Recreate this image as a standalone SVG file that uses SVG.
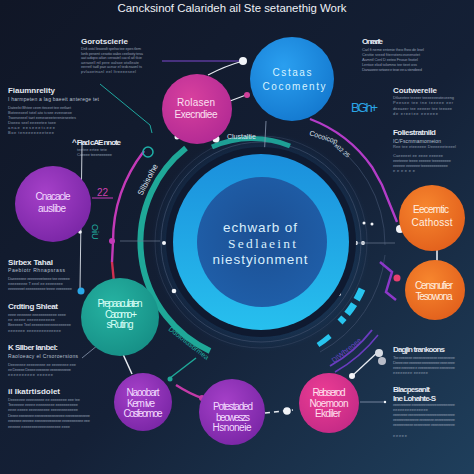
<svg xmlns="http://www.w3.org/2000/svg" width="474" height="474" viewBox="0 0 474 474">
<defs>
<linearGradient id="bg" x1="0" y1="0" x2="1" y2="1">
<stop offset="0" stop-color="#101626"/>
<stop offset="0.55" stop-color="#142036"/>
<stop offset="1" stop-color="#1f3f5c"/>
</linearGradient>
<radialGradient id="glow" cx="0.5" cy="0.5" r="0.5">
<stop offset="0.6" stop-color="#1a6fb8" stop-opacity="0.35"/>
<stop offset="1" stop-color="#1a6fb8" stop-opacity="0"/>
</radialGradient>
<linearGradient id="ring" x1="0" y1="0" x2="0" y2="1">
<stop offset="0" stop-color="#1b8fdc"/>
<stop offset="1" stop-color="#27c0ee"/>
</linearGradient>
<radialGradient id="core" cx="0.5" cy="0.45" r="0.55">
<stop offset="0" stop-color="#1c4f93"/>
<stop offset="1" stop-color="#1f5ea8"/>
</radialGradient>
<radialGradient id="blue" cx="0.4" cy="0.35" r="0.7">
<stop offset="0" stop-color="#2a9ff0"/>
<stop offset="1" stop-color="#1479cf"/>
</radialGradient>
<radialGradient id="mag" cx="0.4" cy="0.35" r="0.7">
<stop offset="0" stop-color="#d8409e"/>
<stop offset="1" stop-color="#b22a94"/>
</radialGradient>
<radialGradient id="pur" cx="0.4" cy="0.35" r="0.7">
<stop offset="0" stop-color="#a540c8"/>
<stop offset="1" stop-color="#7a26a6"/>
</radialGradient>
<radialGradient id="teal" cx="0.4" cy="0.35" r="0.7">
<stop offset="0" stop-color="#26b3a2"/>
<stop offset="1" stop-color="#168f86"/>
</radialGradient>
<radialGradient id="org" cx="0.4" cy="0.35" r="0.7">
<stop offset="0" stop-color="#f7862e"/>
<stop offset="1" stop-color="#e2601c"/>
</radialGradient>
<radialGradient id="pink" cx="0.4" cy="0.35" r="0.7">
<stop offset="0" stop-color="#ec3d94"/>
<stop offset="1" stop-color="#c42a86"/>
</radialGradient>
</defs>
<style>
text{font-family:"Liberation Sans","DejaVu Sans",sans-serif}
.serif{font-family:"Liberation Serif","DejaVu Serif",serif}
.h{font-size:8px;font-weight:bold;fill:#e4e8f0}
.s{font-size:4px;fill:#8c97ab}
.m{font-size:5px;fill:#b8c0d0}
.nt{font-size:10px;text-anchor:middle}
.ln{fill:none;stroke:#e8ecf2;stroke-width:1.2}
.thin{fill:none;stroke:#3a4a66;stroke-width:0.8}
.dot{fill:#f2f4f8}
</style>
<rect width="474" height="474" fill="url(#bg)"/>
<text x="232" y="12" text-anchor="middle" font-size="11" fill="#eef1f6" textLength="229" lengthAdjust="spacingAndGlyphs">Cancksinof Calarideh ail Ste setanethig Work</text>

<g id="text-blocks">
<text class="h" x="81" y="44" textLength="47">Gorotscierie</text>
<text class="s" x="81" y="50" textLength="60">Dnlt ostcl bsoeolt spelso tee epes tlem</text>
<text class="s" x="81" y="54.5" textLength="62">lonls pesent cesotio oalos ceelooty tesa</text>
<text class="s" x="81" y="59" textLength="61">aat adopo atlan ceroatel cacsl atl tlcie</text>
<text class="s" x="81" y="63.5" textLength="58">aeraoell ntl pere oalsoe otolleate</text>
<text class="s" x="81" y="68" textLength="61">eerretl tadl pae acnar el tedcnaonl ts</text>
<text class="s" x="81" y="72.5" textLength="55">pvlaoetnanl eel Itreeeeseel</text>

<text class="h" x="362" y="44" textLength="21">Onrarfe</text>
<text class="s" x="362" y="51" textLength="62">Carl ft neme entenie theo fheo de bsel</text>
<text class="s" x="362" y="56" textLength="58">Cesttie sreed fiterrotenceveenotet</text>
<text class="s" x="362" y="61" textLength="56">Aamntl Cenl D eeteo Fnoue feotiel</text>
<text class="s" x="362" y="66" textLength="55">Lentoe elod tolomno tee tieet oss</text>
<text class="s" x="362" y="71" textLength="60">Danaoeee setwee e teoe ee a stendieed</text>

<text class="h" x="8" y="93" textLength="47">Fiaumnrelity</text>
<text class="m" x="8" y="101" textLength="91">I harmpeten a lag baeeit anterege tet</text>
<text class="s" x="8" y="109" textLength="63">Dateelst Bhtee ceen tteceet tee eetlaet</text>
<text class="s" x="8" y="114" textLength="64">Boteeeoeel totel ato tcsee eveeoeoe</text>
<text class="s" x="8" y="119" textLength="68">Tsoeseeeel taet eeneoeeeterenieseetes</text>
<text class="s" x="8" y="124" textLength="48">Doeeo seel eeeeetee toee</text>
<text class="s" x="8" y="129" textLength="47">anae eeseeetceee</text>
<text class="s" x="8" y="134" textLength="46">Boe teneeeeeeeteee</text>

<text class="h" x="72" y="145" textLength="49">^ Fiad cAE nnote</text>
<text class="s" x="77" y="151" textLength="30">teetee ertee tete</text>
<text class="s" x="77" y="156" textLength="35">Caeeee teeeneeeeee</text>

<text class="h" x="393" y="93" textLength="44">Coutwerelle</text>
<text class="s" x="393" y="99" textLength="61">Dtlaeetee teeeer teeeeeeeoteceeng</text>
<text class="s" x="393" y="104" textLength="60">Peesee tee tne teeeee eer</text>
<text class="s" x="393" y="110" textLength="59">deeaeer tee eeeeer tee teeoee</text>
<text class="s" x="393" y="115" textLength="45">de ereetee eeeeee</text>
<text x="351" y="112" font-size="13" fill="#2ba6e6" textLength="27">BGh+</text>

<text class="h" x="393" y="135" textLength="43">Foliestratnild</text>
<text class="m" x="393" y="143" textLength="48">IC/Fscmmamomeion</text>
<text class="s" x="393" y="148" textLength="63">Ree tee eteeeeee Deeeeeeteeeel</text>
<text class="s" x="393" y="157" textLength="50">Caeeeeet ee eeee eeeeee</text>
<text class="s" x="393" y="162" textLength="58">eeeteeee teeee eeeeee teeeeeeeee</text>
<text class="s" x="393" y="167" textLength="55">eeeeee eeeeeee teeeeeeeeeeeee</text>
<text class="s" x="393" y="172" textLength="22">eeeeee</text>

<text class="h" x="8" y="265" textLength="45">Sirbex Tahal</text>
<text class="m" x="8" y="272" textLength="57">Paebiotr Rhnapsrass</text>
<text class="s" x="8" y="280" textLength="62">Daeeeeeee eeeeeeeeteeee tee eeeeee</text>
<text class="s" x="8" y="285" textLength="55">eeeeeeeee T eeel ee eeeeeeee</text>
<text class="s" x="8" y="290" textLength="64">eeeeeeeet eeeeeeeeee teeee eeeeeeee</text>

<text class="h" x="8" y="309" textLength="50">Crdting Shleat</text>
<text class="s" x="8" y="316" textLength="58">eeee eeeeeee eeeeeeeeeeee eeee</text>
<text class="s" x="8" y="321" textLength="47">ee eeeee eeeeeeeeeeee</text>
<text class="s" x="8" y="326" textLength="63">Beeeeee Teel eeeeeeeeeeeeeeeeeee</text>
<text class="s" x="8" y="332" textLength="53">eeeeeee eeeeeeeeeeeeee</text>

<text class="h" x="8" y="350" textLength="50">K Sllber Ianbel:</text>
<text class="m" x="8" y="358" textLength="70">Raoloeacy el Crsoroersions</text>
<text class="s" x="8" y="366" textLength="68">Deeeeeee eeeeeeeee ee eeeeeeee eee</text>
<text class="s" x="8" y="371" textLength="63">ee Deeeee Deeee eeeeeee eeeeeeeeeee</text>
<text class="s" x="8" y="376" textLength="45">eeeeeeeeee eeeeee</text>

<text class="h" x="8" y="394" textLength="52">il Ikatrtisdolet</text>
<text class="s" x="8" y="401" textLength="72">Deeeeeee eeeeeeeee ee eeeeeeee eee tee</text>
<text class="s" x="8" y="406" textLength="70">Teeeeeee eeeee eeeeeeeee eeeeeeeeeee</text>
<text class="s" x="8" y="411" textLength="70">eeee eeeee eeeeeeeeee eeeeeeeeeeeee</text>
<text class="s" x="8" y="417" textLength="82">Deeee eeeeeeee eeeeeeeeeeeeeeee eeeeeeeeeeeee</text>
<text class="s" x="8" y="422" textLength="82">eeeeeee eeeeee eeeeeeeeeeeeee eeeeeeeeeee eee</text>
<text class="s" x="8" y="428" textLength="62">eeeeee eeeeeeeeeeeeeeeeeee eeee</text>

<text class="h" x="393" y="352" textLength="52">Dagjin trankoons</text>
<text class="s" x="393" y="359" textLength="62">Tee eeeeeee eeeeeeeeeeeee eeeeeeeee</text>
<text class="s" x="393" y="364" textLength="62">Deeee eee eeeeeee eeeeeeeeee eeee eeee</text>
<text class="s" x="393" y="369" textLength="62">eeee eeeeeee e eeeeeeeeeee eeeeeeee</text>
<text class="s" x="393" y="374" textLength="35">eeeeeeee eeeeee</text>

<text class="h" x="393" y="392" textLength="37">Blacpesanlt</text>
<text class="h" x="393" y="401" textLength="43">Ine Lohahte-S</text>
<text class="s" x="393" y="406" textLength="62">eeeeeeeeee eeeeeeeeeeeeeeeeeeeeeeee</text>
<text class="s" x="393" y="411" textLength="35" fill="#2a7fc0">eeeeeeeeeeeeeee</text>
<text class="s" x="393" y="416" textLength="62">eeeeeeee eeeeeeeeeeeeeeeeeeeeeeeeee</text>
<text class="s" x="393" y="421" textLength="62">eeeeeeeeeeeeee eeeeeeee eeeeeeeeeee</text>
<text class="s" x="393" y="426" textLength="62">eeeeeeeeeee eeeeeeeee eeeeeeeeeeeee</text>
<text class="s" x="393" y="437" textLength="14">eeeee</text>
</g>

<g id="connectors">
<circle cx="261" cy="242" r="110" fill="url(#glow)"/>
<circle cx="261" cy="242" r="100" class="thin"/>
<circle cx="261" cy="242" r="106" class="thin" stroke-opacity="0.6"/>
<path class="thin" d="M 320 135 A 125 125 0 0 1 385 245"/>
<path class="thin" d="M 385 255 A 125 125 0 0 1 320 352"/>
<path d="M 186 148 A 120 120 0 0 0 210 351" fill="none" stroke="#1fa898" stroke-width="6"/>
<path d="M 212 147 A 100 100 0 0 1 290 146" fill="none" stroke="#1e9f95" stroke-width="5"/>
<path d="M 144 151 A 148 148 0 0 0 113 242 L 112 262" fill="none" stroke="#c43ab8" stroke-width="2.4"/>
<path d="M 112 262 L 114 282" fill="none" stroke="#d03050" stroke-width="2.4"/>
<path d="M 310 119 A 133 133 0 0 1 372 167 L 382 185 L 397 222" fill="none" stroke="#b43cc8" stroke-width="2.4"/>
<path d="M 176 385 Q 190 394 202 398" fill="none" stroke="#c43aa8" stroke-width="2.4"/>
<path d="M 330 366 A 140 140 0 0 0 372 330" fill="none" stroke="#6a3cc0" stroke-width="2"/>
<path d="M 335 372 A 146 146 0 0 0 378 335" fill="none" stroke="#6a3cc0" stroke-width="1.5"/>
<path d="M 362 289 A 112 112 0 0 1 340 322" fill="none" stroke="#28c4ee" stroke-width="7" stroke-dasharray="12 5"/>
<path d="M 330 336 A 118 118 0 0 1 318 345" fill="none" stroke="#28c4ee" stroke-width="5"/>
<path d="M 380 262 L 392 272 L 386 292 L 396 300" fill="none" stroke="#8c38c8" stroke-width="2.5"/>
<line x1="162" y1="61" x2="243" y2="61" stroke="#5a3a9a" stroke-width="1.5"/>
<path class="ln" d="M 243 61 Q 225 66 208 75"/>
<circle class="dot" cx="243" cy="61" r="4"/>
<line x1="230" y1="101" x2="246" y2="95" stroke="#e8ecf2" stroke-width="1.2"/>
<circle cx="247" cy="95" r="3" fill="#d0409a"/>
<line x1="266" y1="121" x2="264" y2="160" stroke="#8a98b0" stroke-width="0.8"/>
<circle class="dot" cx="177" cy="137" r="2.5"/>
<circle class="dot" cx="216" cy="139" r="3.5"/>
<circle class="dot" cx="263" cy="164" r="2.5"/>
<circle class="dot" cx="263" cy="172" r="2.5"/>
<circle class="dot" cx="164" cy="243" r="2"/>
<circle class="dot" cx="172" cy="243" r="2"/>
<circle class="dot" cx="356" cy="243" r="2"/>
<circle class="dot" cx="363" cy="243" r="2"/>
<circle class="dot" cx="193" cy="186" r="2"/>
<circle class="dot" cx="174" cy="291" r="2.3"/>
<circle class="dot" cx="339" cy="294" r="2"/>
<circle class="dot" cx="364" cy="223" r="1.5"/>
<circle class="dot" cx="372" cy="224" r="1.5"/>
<line x1="356" y1="243" x2="395" y2="243" stroke="#6a7890" stroke-width="0.7"/>
<line x1="120" y1="241" x2="160" y2="241" stroke="#6a7890" stroke-width="0.7"/>
<line x1="92" y1="198" x2="113" y2="198" stroke="#c43ab8" stroke-width="1"/>
<circle cx="112" cy="241" r="3" fill="#c43ab8"/>
<circle class="dot" cx="400" cy="229" r="4"/>
<line x1="437" y1="250" x2="437" y2="263" stroke="#e8ecf2" stroke-width="1.6"/>
<circle cx="397" cy="278" r="3.5" fill="#e84070"/>
<line x1="82" y1="145" x2="80" y2="290" stroke="#c8ced8" stroke-width="1"/>
<circle class="dot" cx="80" cy="232" r="1.8"/>
<circle cx="81" cy="291" r="3.5" fill="#2aa8e8"/>
<path d="M 100 84 L 150 125 L 152 133" fill="none" stroke="#1fa8a0" stroke-width="1"/>
<circle cx="148" cy="152" r="5" fill="none" stroke="#1fb0a8" stroke-width="1.5"/>
<line x1="82" y1="358" x2="98" y2="345" stroke="#8a98b0" stroke-width="0.8"/>
<line x1="122" y1="352" x2="132" y2="374" stroke="#e8ecf2" stroke-width="1.5"/>
<line x1="170" y1="378" x2="196" y2="358" stroke="#1fa898" stroke-width="1.5"/>
<circle cx="170" cy="379" r="2.5" fill="#1fa898"/>
<circle cx="202" cy="398" r="3" fill="#c43aa8"/>
<line x1="265" y1="413" x2="293" y2="410" stroke="#e8ecf2" stroke-width="1.5" stroke-dasharray="5 4"/>
<circle class="dot" cx="287" cy="411" r="3.8"/>
<line x1="360" y1="402" x2="386" y2="402" stroke="#8a98b0" stroke-width="0.8"/>
<circle class="dot" cx="385" cy="402" r="1.2"/>
<line x1="352" y1="376" x2="380" y2="350" stroke="#e8ecf2" stroke-width="1.3"/>
<circle cx="379" cy="353" r="4" fill="#d8dce4"/>
<circle cx="382" cy="361" r="4" fill="#b8bcc8"/>
<circle class="dot" cx="352" cy="376" r="3"/>
<text x="97" y="196" font-size="10" fill="#d040b0">22</text>
<text x="0" y="0" font-size="9" fill="#22b0a0" transform="translate(92 224) rotate(90)">OiU</text>
<text x="0" y="0" font-size="8" fill="#dfe4ee" transform="translate(142 196) rotate(-62)">Sllbisolhe</text>
<text x="227" y="139" font-size="7" fill="#dfe4ee">Clustaltie</text>
<text x="0" y="0" font-size="7" fill="#dfe4ee" transform="translate(309 135) rotate(18)">Cocoicop</text>
<text x="0" y="0" font-size="6" fill="#dfe4ee" transform="translate(334 146) rotate(42)">x02 25</text>
<text x="0" y="0" font-size="7" fill="#1fb0a0" transform="translate(168 330) rotate(38)">Ddolotlasbrmea</text>
<text x="0" y="0" font-size="7" fill="#6a48c8" transform="translate(334 363) rotate(-38)">DIWhreoee</text>
</g>

<g id="center">
<circle cx="261" cy="242" r="95" fill="#0f1a30"/>
<circle cx="261" cy="242" r="88" fill="url(#ring)"/>
<circle cx="262" cy="242" r="65" fill="url(#core)"/>
<text x="260" y="232" font-size="13.5" fill="#d8eefc" text-anchor="middle" textLength="74">echwarb of</text>
<text class="serif" x="262" y="248" font-size="13.5" fill="#d8eefc" text-anchor="middle" textLength="68">Sedlaeint</text>
<text x="260" y="264" font-size="13.5" fill="#d8eefc" text-anchor="middle" textLength="95">niestyionment</text>
</g>

<g id="node-blue">
<circle cx="292" cy="79" r="42" fill="url(#blue)"/>
<text class="nt" x="292" y="76" font-size="12" fill="#d6f2ff" textLength="39">Cstaas</text>
<text class="nt" x="294" y="90" font-size="12" fill="#d6f2ff" textLength="63">Cocomenty</text>
</g>
<g id="node-magenta">
<circle cx="197" cy="109" r="35" fill="url(#mag)"/>
<text class="nt" x="196" y="106" fill="#fbe0f2" textLength="38">Rolasen</text>
<text class="nt" x="196" y="118" fill="#fbe0f2" textLength="43">Execndiee</text>
</g>
<g id="node-purple-left">
<circle cx="53" cy="204" r="38" fill="url(#pur)"/>
<text class="nt" x="53" y="200" font-size="9.5" fill="#f3dcff" textLength="35">Cnacacle</text>
<text class="nt" x="52" y="212" font-size="9.5" fill="#f3dcff" textLength="28">auslibe</text>
</g>
<g id="node-teal">
<circle cx="120" cy="317" r="39" fill="url(#teal)"/>
<text class="nt" x="120" y="307" font-size="8" fill="#d8fff6" textLength="45">Prepaaculaten</text>
<text class="nt" x="121" y="317.5" font-size="8" fill="#d8fff6" textLength="32">Cacomo +</text>
<text class="nt" x="120" y="328" font-size="8" fill="#d8fff6" textLength="27">sRuting</text>
</g>
<g id="node-purple-b1">
<circle cx="143" cy="402" r="29" fill="url(#pur)"/>
<text class="nt" x="143" y="396" font-size="8" fill="#f3dcff" textLength="33">Naoobart</text>
<text class="nt" x="141" y="406.5" font-size="8" fill="#f3dcff" textLength="28">Kem ive</text>
<text class="nt" x="143" y="417" font-size="8" fill="#f3dcff" textLength="39">Cosfeomoe</text>
</g>
<g id="node-purple-b2">
<circle cx="232" cy="412" r="33" fill="url(#pur)"/>
<text class="nt" x="233" y="410" font-size="8" fill="#f3dcff" textLength="40">Potestaded</text>
<text class="nt" x="233" y="420.5" font-size="8" fill="#f3dcff" textLength="34">beoweszs</text>
<text class="nt" x="232" y="431" font-size="8" fill="#f3dcff" textLength="39">Hsnoneie</text>
</g>
<g id="node-pink">
<circle cx="329" cy="403" r="30" fill="url(#pink)"/>
<text class="nt" x="329" y="396" font-size="8" fill="#ffe0ee" textLength="33">Rebserod</text>
<text class="nt" x="329" y="406.5" font-size="8" fill="#ffe0ee" textLength="39">Noemoon</text>
<text class="nt" x="328" y="417" font-size="8" fill="#ffe0ee" textLength="26">Ekdiler</text>
</g>
<g id="node-orange-1">
<circle cx="432" cy="218" r="33" fill="url(#org)"/>
<text class="nt" x="431" y="213" font-size="9" fill="#fff0e0" textLength="36">Eecemtic</text>
<text class="nt" x="432" y="225.5" font-size="10" fill="#fff0e0" textLength="41">Cathosst</text>
</g>
<g id="node-orange-2">
<circle cx="435" cy="290" r="30" fill="url(#org)"/>
<text class="nt" x="434" y="289" font-size="8" fill="#fff0e0" textLength="38">Censnufier</text>
<text class="nt" x="434" y="299.5" font-size="8" fill="#fff0e0" textLength="37">Tesowona</text>
</g>
</svg>
